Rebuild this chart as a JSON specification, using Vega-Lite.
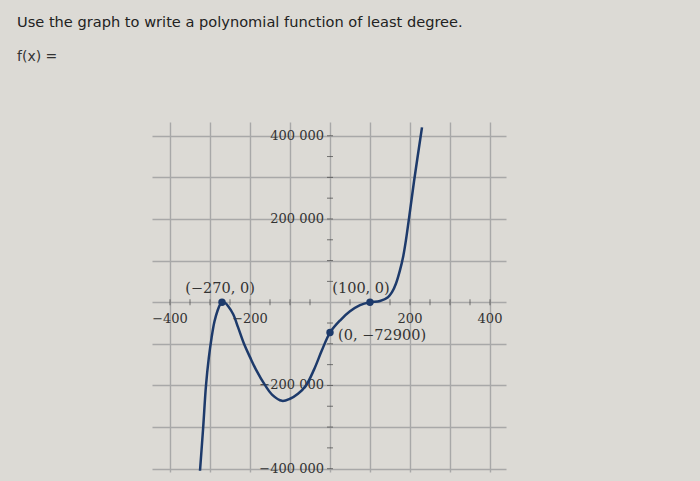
{
  "$schema": "https://vega.github.io/schema/vega-lite/v6.json",
  "autosize": {"type": "none"},
  "width": 354,
  "height": 350,
  "padding": {"left": 152, "top": 122, "right": 194, "bottom": 9},
  "background": "#dcdad5",
  "config": {"view": {"stroke": null}},
  "title": {
    "text": "Use the graph to write a polynomial function of least degree.",
    "subtitle": "\u00a0f(x) =",
    "anchor": "start",
    "frame": "group",
    "dx": -135,
    "offset": 58,
    "font": "DejaVu Sans",
    "fontSize": 14.6,
    "fontWeight": "normal",
    "color": "#222222",
    "subtitleFont": "DejaVu Sans",
    "subtitleFontSize": 14,
    "subtitleColor": "#333333",
    "subtitlePadding": 20
  },
  "datasets": {
    "curve": [
      {"x": -325, "y": -405000}, {"x": -317, "y": -300000}, {"x": -310, "y": -200000},
      {"x": -303, "y": -134000}, {"x": -296, "y": -85000}, {"x": -289, "y": -47000},
      {"x": -281, "y": -20000}, {"x": -275, "y": -6000}, {"x": -270, "y": 0},
      {"x": -262, "y": -2000}, {"x": -255, "y": -9000}, {"x": -242, "y": -29000},
      {"x": -230, "y": -60000}, {"x": -215, "y": -100000}, {"x": -200, "y": -132000},
      {"x": -185, "y": -162000}, {"x": -162, "y": -200000}, {"x": -145, "y": -222000},
      {"x": -120, "y": -237000}, {"x": -100, "y": -232000}, {"x": -80, "y": -220000},
      {"x": -60, "y": -200000}, {"x": -40, "y": -162000}, {"x": -20, "y": -115000},
      {"x": 0, "y": -72900}, {"x": 25, "y": -44000}, {"x": 50, "y": -22000},
      {"x": 75, "y": -7000}, {"x": 100, "y": 0}, {"x": 125, "y": 3000},
      {"x": 145, "y": 12000}, {"x": 155, "y": 24000}, {"x": 165, "y": 45000},
      {"x": 175, "y": 77000}, {"x": 183, "y": 110000}, {"x": 190, "y": 150000},
      {"x": 197, "y": 198000}, {"x": 210, "y": 290000}, {"x": 230, "y": 420000}
    ],
    "xticks": [
      {"v": -400}, {"v": -350}, {"v": -300}, {"v": -250}, {"v": -200}, {"v": -150},
      {"v": -100}, {"v": -50}, {"v": 50}, {"v": 100}, {"v": 150}, {"v": 200},
      {"v": 250}, {"v": 300}, {"v": 350}, {"v": 400}
    ],
    "yticks": [
      {"v": -400000}, {"v": -350000}, {"v": -300000}, {"v": -250000}, {"v": -200000},
      {"v": -150000}, {"v": -100000}, {"v": -50000}, {"v": 50000}, {"v": 100000},
      {"v": 150000}, {"v": 200000}, {"v": 250000}, {"v": 300000}, {"v": 350000}, {"v": 400000}
    ],
    "xlabels": [
      {"v": -400, "t": "−400"}, {"v": -200, "t": "−200"}, {"v": 200, "t": "200"}, {"v": 400, "t": "400"}
    ],
    "ylabels": [
      {"v": 400000, "t": "400 000"}, {"v": 200000, "t": "200 000"},
      {"v": -200000, "t": "−200 000"}, {"v": -400000, "t": "−400 000"}
    ]
  },
  "layer": [
    {
      "data": {"name": "curve"},
      "mark": {"type": "line", "strokeWidth": 0, "opacity": 0},
      "encoding": {
        "x": {
          "field": "x", "type": "quantitative",
          "scale": {"domain": [-445, 440], "nice": false, "zero": false},
          "axis": {
            "values": [-400, -300, -200, -100, 0, 100, 200, 300, 400],
            "grid": true, "gridColor": "#a8a8a8", "gridWidth": 1.4, "gridOpacity": 1,
            "labels": false, "ticks": false, "domain": false, "title": null
          }
        },
        "y": {
          "field": "y", "type": "quantitative",
          "scale": {"domain": [-408000, 433000], "nice": false, "zero": false},
          "axis": {
            "values": [-400000, -300000, -200000, -100000, 0, 100000, 200000, 300000, 400000],
            "grid": true, "gridColor": "#a8a8a8", "gridWidth": 1.4, "gridOpacity": 1,
            "labels": false, "ticks": false, "domain": false, "title": null
          }
        }
      }
    },
    {
      "mark": {"type": "rule", "color": "#333333", "strokeWidth": 1.3},
      "encoding": {"x": {"datum": 0, "type": "quantitative"}}
    },
    {
      "mark": {"type": "rule", "color": "#333333", "strokeWidth": 1.3},
      "encoding": {"y": {"datum": 0, "type": "quantitative"}}
    },
    {
      "data": {"name": "xticks"},
      "mark": {"type": "tick", "orient": "vertical", "size": 6, "thickness": 1, "color": "#444444"},
      "encoding": {
        "x": {"field": "v", "type": "quantitative"},
        "y": {"datum": 0, "type": "quantitative"}
      }
    },
    {
      "data": {"name": "yticks"},
      "mark": {"type": "tick", "orient": "horizontal", "size": 6, "thickness": 1, "color": "#444444"},
      "encoding": {
        "y": {"field": "v", "type": "quantitative"},
        "x": {"datum": 0, "type": "quantitative"}
      }
    },
    {
      "data": {"name": "xlabels"},
      "mark": {"type": "text", "font": "DejaVu Serif", "fontSize": 13, "color": "#333333", "align": "center", "baseline": "middle", "dy": 17},
      "encoding": {
        "x": {"field": "v", "type": "quantitative"},
        "y": {"datum": 0, "type": "quantitative"},
        "text": {"field": "t"}
      }
    },
    {
      "data": {"name": "ylabels"},
      "mark": {"type": "text", "font": "DejaVu Serif", "fontSize": 13, "color": "#333333", "align": "right", "baseline": "middle", "dx": -6},
      "encoding": {
        "y": {"field": "v", "type": "quantitative"},
        "x": {"datum": 0, "type": "quantitative"},
        "text": {"field": "t"}
      }
    },
    {
      "data": {"name": "curve"},
      "mark": {"type": "line", "color": "#1d3a6b", "strokeWidth": 2.5, "interpolate": "catmull-rom"},
      "encoding": {
        "x": {"field": "x", "type": "quantitative"},
        "y": {"field": "y", "type": "quantitative"}
      }
    },
    {
      "data": {"values": [{"x": -270, "y": 0}, {"x": 100, "y": 0}, {"x": 0, "y": -72900}]},
      "mark": {"type": "point", "filled": true, "size": 55, "opacity": 1, "color": "#1d3a6b"},
      "encoding": {
        "x": {"field": "x", "type": "quantitative"},
        "y": {"field": "y", "type": "quantitative"}
      }
    },
    {
      "data": {"values": [{"x": -270, "y": 0, "t": "(−270, 0)"}]},
      "mark": {"type": "text", "font": "DejaVu Serif", "fontSize": 14.5, "color": "#333333", "align": "center", "baseline": "middle", "dx": -2, "dy": -13},
      "encoding": {
        "x": {"field": "x", "type": "quantitative"},
        "y": {"field": "y", "type": "quantitative"},
        "text": {"field": "t"}
      }
    },
    {
      "data": {"values": [{"x": 100, "y": 0, "t": "(100, 0)"}]},
      "mark": {"type": "text", "font": "DejaVu Serif", "fontSize": 14.5, "color": "#333333", "align": "center", "baseline": "middle", "dx": -9, "dy": -13},
      "encoding": {
        "x": {"field": "x", "type": "quantitative"},
        "y": {"field": "y", "type": "quantitative"},
        "text": {"field": "t"}
      }
    },
    {
      "data": {"values": [{"x": 0, "y": -72900, "t": "(0, −72900)"}]},
      "mark": {"type": "text", "font": "DejaVu Serif", "fontSize": 14.5, "color": "#333333", "align": "left", "baseline": "middle", "dx": 8, "dy": 3},
      "encoding": {
        "x": {"field": "x", "type": "quantitative"},
        "y": {"field": "y", "type": "quantitative"},
        "text": {"field": "t"}
      }
    },
    {
      "mark": {"type": "text", "text": "f(x)", "font": "DejaVu Serif", "fontSize": 15, "color": "#333333", "align": "center", "baseline": "middle", "dx": -3, "dy": -18},
      "encoding": {
        "x": {"datum": 0, "type": "quantitative"},
        "y": {"datum": 433000, "type": "quantitative"}
      }
    },
    {
      "mark": {"type": "text", "text": "x", "font": "DejaVu Serif", "fontSize": 15, "color": "#333333", "align": "center", "baseline": "middle", "dx": 14, "dy": 1},
      "encoding": {
        "x": {"datum": 440, "type": "quantitative"},
        "y": {"datum": 0, "type": "quantitative"}
      }
    }
  ]
}
